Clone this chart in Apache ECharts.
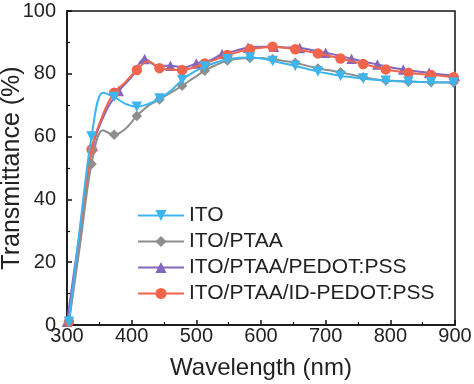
<!DOCTYPE html>
<html>
<head>
<meta charset="utf-8">
<script src="https://cdn.jsdelivr.net/npm/echarts@6/dist/echarts.min.js"></script>
<style>
html,body{margin:0;padding:0;background:#fff;}
#chart{width:474px;height:384px;}
</style>
</head>
<body>
<div id="chart"></div>
<script>
// Wavelength grids (nm)
const wlA = [303,320.5,338,355.5,373,390.5,408,425.5,443,460.5,478,495.5,513,530.5,548,565.5,583,600.5,618,635.5,653,670.5,688,705.5,723,740.5,758,775.5,793,810.5,828,845.5,863,880.5,898];
const wlB = [300,320,340,360,380,400,420,440,460,480,500,520,540,560,580,600,620,640,660,680,700,720,740,760,780,800,820,840,860,880,900];

// Transmittance (%)
const ito = [1,32,60,74,72.6,70.4,69.5,70.4,72.1,74.6,78,80.5,82.3,83.6,84.6,85.1,85.2,84.9,84.1,83.3,82.5,81.6,80.7,80,79.3,78.9,78.5,78.1,77.8,77.6,77.5,77.4,77.3,77.3,77.2];
const itoPtaa = [1,26,51.3,62,60.6,62.5,66.6,69.8,71.8,74,76.2,78.6,81,82.8,84.2,84.8,85,85,84.6,84.1,83.5,82.6,81.7,81.1,80.5,79.7,78.9,78.3,77.9,77.7,77.5,77.4,77.3,77.2,77.2];
const itoPtaaPedot = [1,30,57,68,74.5,79,84.7,82.5,82.6,82,83.3,84.2,86.3,87.3,88.4,88.6,88.6,88.4,88.2,87.5,86.7,85.8,84.8,83.8,83,82.1,81.4,80.8,80.3,79.8,79.3];
const itoPtaaIdPedot = [1,28,55.9,67,74,77.4,81.2,84,81.8,81.4,81.2,82,83.3,84.6,86,87,87.8,88.3,88.6,88.3,87.8,87.2,86.5,85.7,84.9,84,83.1,82.2,81.4,80.8,80.3,79.9,79.6,79.3,78.9];

const names = ['ITO','ITO/PTAA','ITO/PTAA/PEDOT:PSS','ITO/PTAA/ID-PEDOT:PSS'];
const xTicks = [300,400,500,600,700,800,900];
const yTicks = [0,20,40,60,80,100];

function pts(xs, ys){
  return xs.map((x,i)=> i%2===0 ? {value:[x,ys[i]]} : {value:[x,ys[i]], symbol:'none'});
}

const FONT = 'Liberation Sans, Arial, sans-serif';
const chart = echarts.init(document.getElementById('chart'), null, {renderer:'canvas'});

function mk(name, xs, ys, color, symbol, rot, z){
  return {
    name, type:'line', data: pts(xs, ys), smooth:0.35,
    symbol, symbolSize:10.5, symbolRotate: rot, showAllSymbol:true,
    lineStyle:{color, width:2}, itemStyle:{color}, z,
    clip:true
  };
}

chart.setOption({
  animation:false,
  backgroundColor:'#fff',
  grid:{left:67,right:19,top:11,bottom:59,outerBoundsMode:'none',containLabel:false,
    show:true,borderColor:'#111',borderWidth:1.5,backgroundColor:'transparent'},
  legend:{
    orient:'vertical', left:132, top:200, itemWidth:46, itemHeight:14, itemGap:5,
    textStyle:{fontFamily:FONT,fontSize:21,color:'#222',lineHeight:21},
    data:names
  },
  xAxis:{
    type:'value', min:300, max:900, interval:100,
    name:'Wavelength (nm)', nameLocation:'middle', nameGap:31, nameMoveOverlap:false,
    nameTextStyle:{fontFamily:FONT,fontSize:24,color:'#222'},
    axisLine:{show:true,onZero:false,lineStyle:{color:'#111',width:1.5}},
    axisTick:{show:true,inside:true,length:5,lineStyle:{color:'#111',width:1.5}},
    minorTick:{show:true,splitNumber:2,length:3,lineStyle:{color:'#111',width:1.2}},
    splitLine:{show:false},
    axisLabel:{fontFamily:FONT,fontSize:20,color:'#222',margin:1,
      formatter:v=> xTicks.indexOf(v)>=0 ? String(v) : ''}
  },
  yAxis:{
    type:'value', min:0, max:100, interval:20,
    name:'Transmittance (%)', nameLocation:'middle', nameGap:42, nameMoveOverlap:false,
    nameTextStyle:{fontFamily:FONT,fontSize:25,color:'#222'},
    axisLine:{show:true,onZero:false,lineStyle:{color:'#111',width:1.5}},
    axisTick:{show:true,inside:true,length:5,lineStyle:{color:'#111',width:1.5}},
    minorTick:{show:true,splitNumber:2,length:3,lineStyle:{color:'#111',width:1.2}},
    splitLine:{show:false},
    axisLabel:{fontFamily:FONT,fontSize:20,color:'#222',margin:11,
      formatter:v=> yTicks.indexOf(v)>=0 ? String(v) : ''}
  },
  series:[
    mk(names[0], wlA, ito, '#3db5ee', 'triangle', 180, 4),
    mk(names[1], wlA, itoPtaa, '#8e8e8e', 'diamond', 0, 3),
    mk(names[2], wlB, itoPtaaPedot, '#8467bd', 'triangle', 0, 1),
    mk(names[3], wlA, itoPtaaIdPedot, '#f0654c', 'circle', 0, 2)
  ]
});
</script>
</body>
</html>
